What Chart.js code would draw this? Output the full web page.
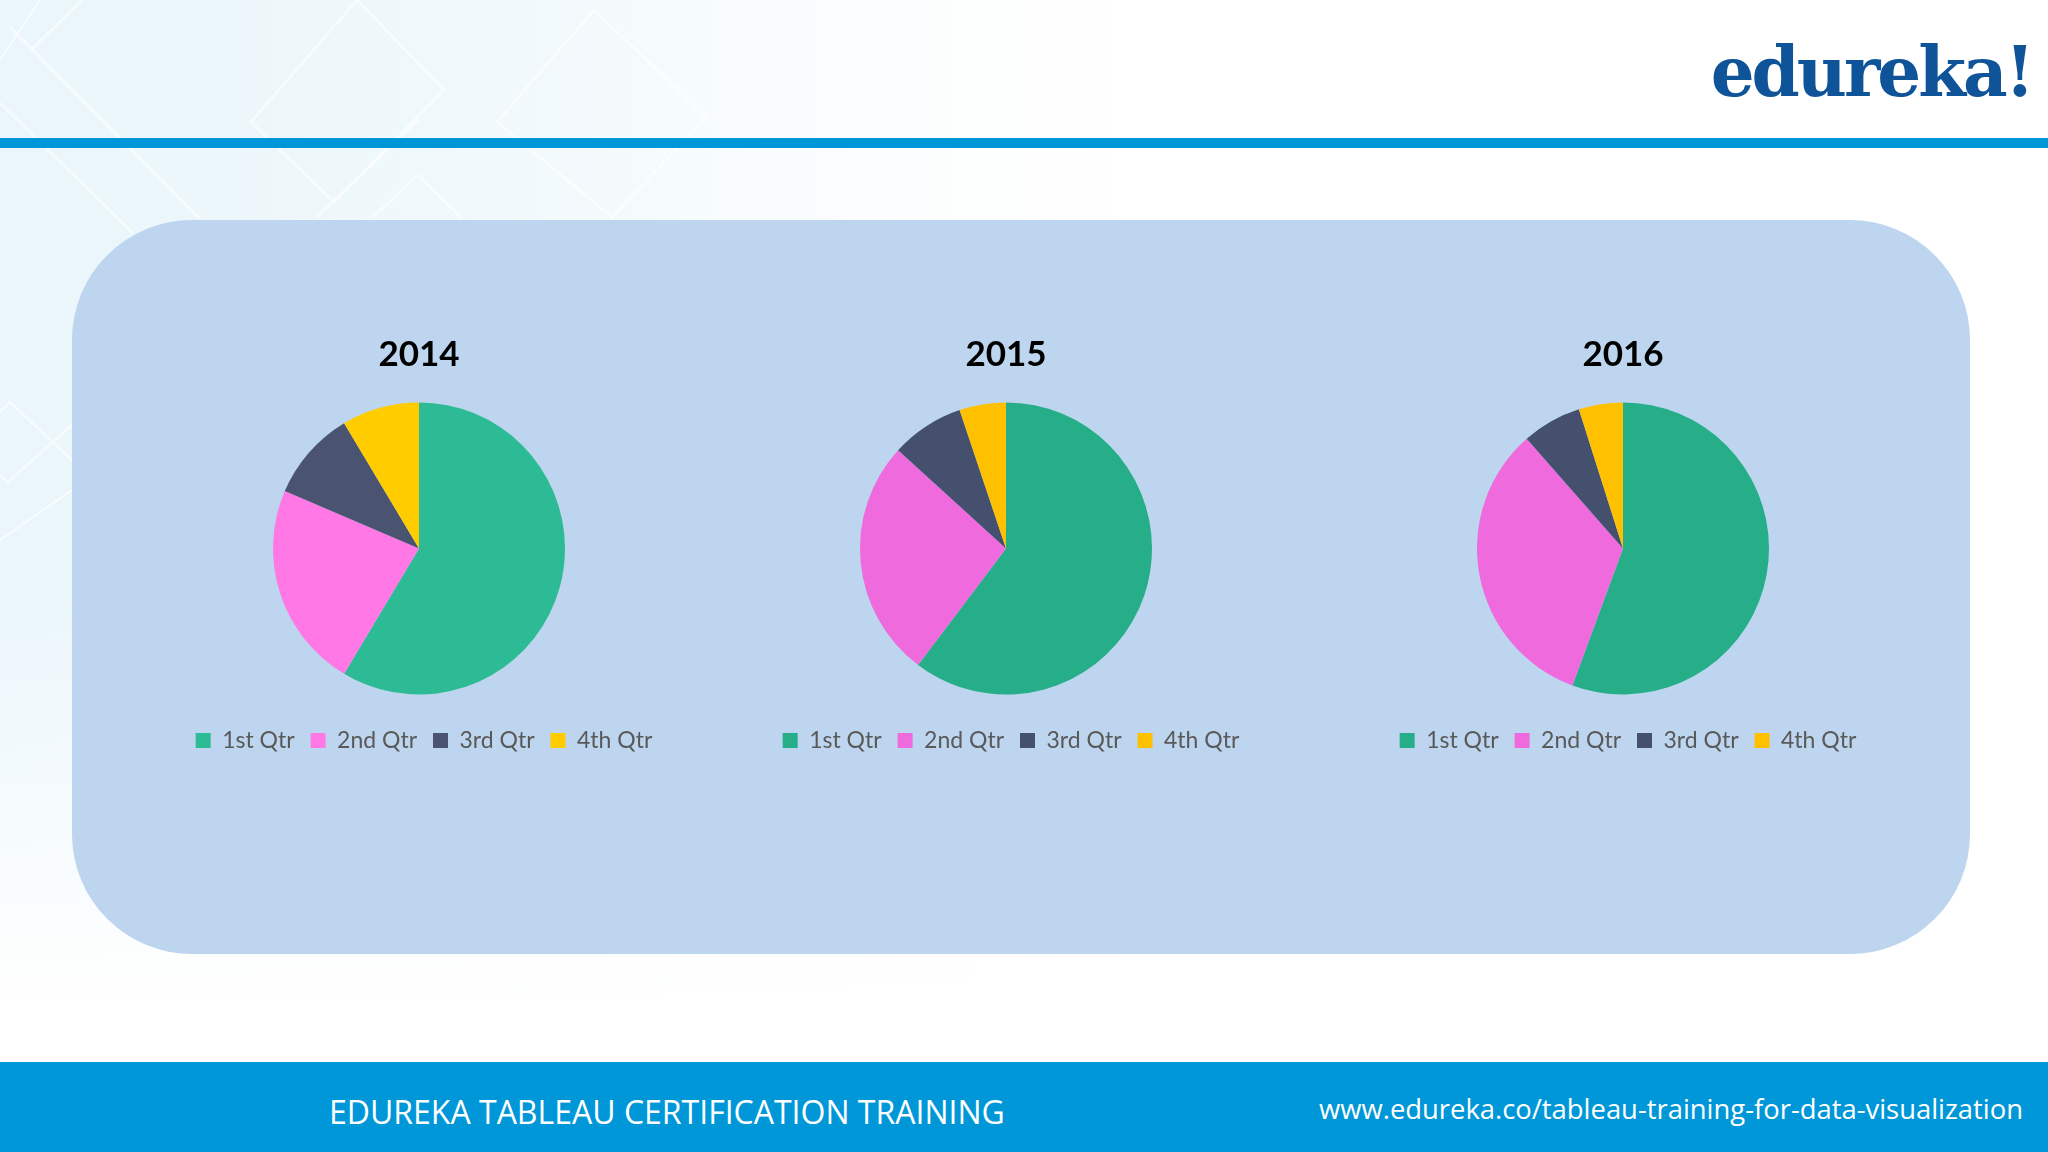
<!DOCTYPE html>
<html>
<head>
<meta charset="utf-8">
<title>Quarterly pies</title>
<script src="https://cdn.jsdelivr.net/npm/chart.js@4/dist/chart.umd.js"></script>
<style>
  html, body { margin: 0; padding: 0; }
  body { width: 2048px; height: 1152px; position: relative; overflow: hidden; background: #fff; }
  #bg { position: absolute; left: 0; top: 0; }
  #rule { position: absolute; left: 0; top: 138px; width: 2048px; height: 10px; background: #0097d9; }
  #logo { position: absolute; right: 16px; top: 26px; font: bold 69px "DejaVu Serif"; letter-spacing: -3px; color: #0f5499; line-height: 92px; }
  #panel { position: absolute; left: 72px; top: 220px; width: 1898px; height: 734px; border-radius: 120px; background: #bdd5ee; }
  #footer { position: absolute; left: 0; top: 1062px; width: 2048px; height: 90px; background: #0097d9; color: #fff; font-family: "Open Sans"; }
  #footer div { position: absolute; white-space: nowrap; }
  #course { left: 329px; top: 28px; font-size: 32px; line-height: 44px; }
  #site { right: 25px; top: 26px; font-size: 27.4px; line-height: 42px; }
  .pie { position: absolute; top: 320px; width: 600px; height: 442px; }
  .pie canvas { display: block; }
</style>
</head>
<body>
<svg id="bg" width="2048" height="1152">
  <defs>
    <linearGradient id="wash" x1="0" y1="0" x2="1" y2="0">
      <stop offset="0" stop-color="#eaf6fb"/>
      <stop offset="0.2" stop-color="#eff8fb"/>
      <stop offset="0.42" stop-color="#fbfdfe"/>
      <stop offset="0.55" stop-color="#ffffff"/>
    </linearGradient>
    <linearGradient id="fade" x1="0" y1="0" x2="0" y2="1">
      <stop offset="0.55" stop-color="#ffffff" stop-opacity="0"/>
      <stop offset="0.95" stop-color="#ffffff" stop-opacity="1"/>
    </linearGradient>
  </defs>
  <rect width="2048" height="1062" fill="url(#wash)"/>
  <rect width="2048" height="1062" fill="url(#fade)"/>
  <g fill="none" stroke="#ffffff" stroke-opacity="0.6" stroke-width="2.5">
    <path d="M251 122 L357 0 L444 90 L334 202 Z"/>
    <path d="M497 122 L594 10 L707 117 L612 217 Z"/>
    <path d="M10 27 L199 218 M0 103 L133 233 M31 50 L82 0 M0 60 L40 0"/>
    <path d="M316 218 L418 120 M418 175 L462 218 M418 175 L372 218"/>
    <path d="M0 412 L10 402 L72 460 M0 475 L8 482 L72 425 M0 540 L72 490"/>
  </g>
</svg>
<div id="rule"></div>
<div id="logo">edureka!</div>
<div id="panel"></div>
<div class="pie" style="left:119px"><canvas id="pie2014"></canvas></div>
<div class="pie" style="left:706px"><canvas id="pie2015"></canvas></div>
<div class="pie" style="left:1323px"><canvas id="pie2016"></canvas></div>
<div id="footer">
  <div id="course">EDUREKA TABLEAU CERTIFICATION TRAINING</div>
  <div id="site">www.edureka.co/tableau-training-for-data-visualization</div>
</div>
<script>
var quarters = ['1st Qtr', '2nd Qtr', '3rd Qtr', '4th Qtr'];
var values2014 = [8.2, 3.2, 1.4, 1.2];
var values2015 = [8.2, 3.6, 1.1, 0.7];
var values2016 = [8.2, 4.85, 0.97, 0.72];
var colors2014 = ['#2dbb95', '#ff78e5', '#4a5470', '#ffcc00'];
var colors2015 = ['#25ae88', '#ef6bdd', '#44506e', '#ffc000'];
var colors2016 = ['#25ae88', '#ef6bdd', '#44506e', '#ffc000'];

// the reference legend sits a little right of the pie centre
var legendNudge = {
  id: 'legendNudge',
  afterLayout: function(chart) {
    chart.legend.left += 5;
    chart.legend.right += 5;
  }
};

function drawPie (id, year, values, colors) {
  var ctx = document.getElementById(id).getContext('2d');
  return new Chart(ctx, {
    type: 'pie',
    plugins: [legendNudge],
    data: {
      labels: quarters,
      datasets: [{ data: values, backgroundColor: colors, borderWidth: 0, radius: 146 }]
    },
    options: {
      responsive: false,
      animation: false,
      plugins: {
        title: {
          display: true,
          text: year,
          color: '#000',
          font: { family: 'Lato', size: 35, weight: 'bold' },
          padding: { top: 14, bottom: 8 }
        },
        legend: {
          position: 'bottom',
          labels: {
            boxWidth: 15,
            boxHeight: 15,
            padding: 16,
            color: '#595959',
            font: { family: 'Lato', size: 23 }
          }
        },
        tooltip: { enabled: false }
      }
    }
  });
}

document.querySelectorAll('canvas').forEach(function(c) {
  c.width = 600;
  c.height = 442;
});
drawPie('pie2014', '2014', values2014, colors2014);
drawPie('pie2015', '2015', values2015, colors2015);
drawPie('pie2016', '2016', values2016, colors2016);
</script>
</body>
</html>
